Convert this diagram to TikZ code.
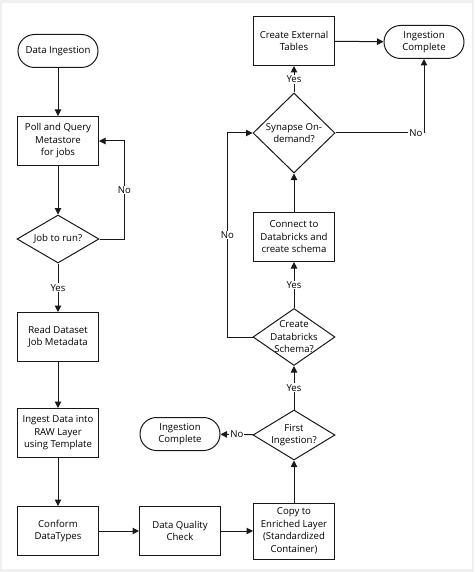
\documentclass[tikz,border=0pt]{standalone}
\usepackage{fontspec}
\setmainfont{Open Sans}
\usetikzlibrary{arrows.meta,shapes.geometric,shapes.misc}
\begin{document}
\begin{tikzpicture}[x=1pt,y=-1pt,line width=1pt,draw=black!90,
	every node/.style={font=\fontsize{9.6}{12.5}\selectfont,align=center},
	box/.style={draw=black!90,rectangle,minimum width=81pt,minimum height=49pt,inner sep=1pt},
	term/.style={draw=black!90,rounded rectangle,minimum width=82pt,minimum height=33pt,inner sep=1pt},
	dec/.style={draw=black!90,diamond,minimum width=82pt,inner sep=0pt},
	lbl/.style={fill=white,inner sep=1pt},
	arr/.style={-{Triangle[length=6.5pt,width=6.5pt]}}]
		% frame of the screenshot
		\fill[gray!12] (0,0) rectangle (474,572);
		\fill[white] (2,3) rectangle (472,569);
		% left column
		\node[term] (start) at (58,51) {Data Ingestion};
		\node[box] (poll) at (58,141) {Poll and Query\\Metastore\\for jobs};
		\node[dec,minimum height=48pt,label={center:Job to run?}] (job) at (58,239) {};
		\node[box] (read) at (58,337) {Read Dataset\\Job Metadata};
		\node[box] (raw) at (58,433) {Ingest Data into\\RAW Layer\\using Template};
		\node[box] (conform) at (58,531) {Conform\\DataTypes};
		% bottom row and right column
		\node[box] (dq) at (180,531) {Data Quality\\Check};
		\node[box,minimum height=56pt] (copy) at (294,531) {Copy to\\Enriched Layer\\(Standardized\\Container)};
		\node[dec,minimum height=50pt,label={center:First\\Ingestion?}] (first) at (294,435) {};
		\node[term] (done1) at (180,434) {Ingestion\\Complete};
		\node[dec,minimum height=57pt,label={center:Create\\Databricks\\Schema?}] (schema) at (294,337) {};
		\node[box] (connect) at (294,237) {Connect to\\Databricks and\\create schema};
		\node[dec,minimum height=80pt,label={center:Synapse On-\\demand?}] (syn) at (294,133) {};
		\node[box] (ext) at (294,41) {Create External\\Tables};
		\node[term] (done2) at (424,42) {Ingestion\\Complete};
		% connectors
		\draw[arr] (start) -- (poll);
		\draw[arr] (poll) -- (job);
		\draw[arr] (job.east) -- ++(25,0) |- node[lbl,pos=0.25] {No} (poll.east);
		\draw[arr] (job) -- node[lbl] {Yes} (read);
		\draw[arr] (read) -- (raw);
		\draw[arr] (raw) -- (conform);
		\draw[arr] (conform) -- (dq);
		\draw[arr] (dq) -- (copy);
		\draw[arr] (copy) -- (first);
		\draw[arr] (first) -- node[lbl] {No} (done1);
		\draw[arr] (first) -- node[lbl] {Yes} (schema);
		\draw[arr] (schema) -- node[lbl] {Yes} (connect);
		\draw[arr] (schema.west) -- ++(-25,0) |- node[lbl,pos=0.25] {No} (syn.west);
		\draw[arr] (connect) -- (syn);
		\draw[arr] (syn) -- node[lbl] {Yes} (ext);
		\draw[arr] (syn.east) -| node[lbl,pos=0.5,anchor=east] {No} (done2);
		\draw[arr] (ext) -- (done2);
	\end{tikzpicture}
\end{document}
